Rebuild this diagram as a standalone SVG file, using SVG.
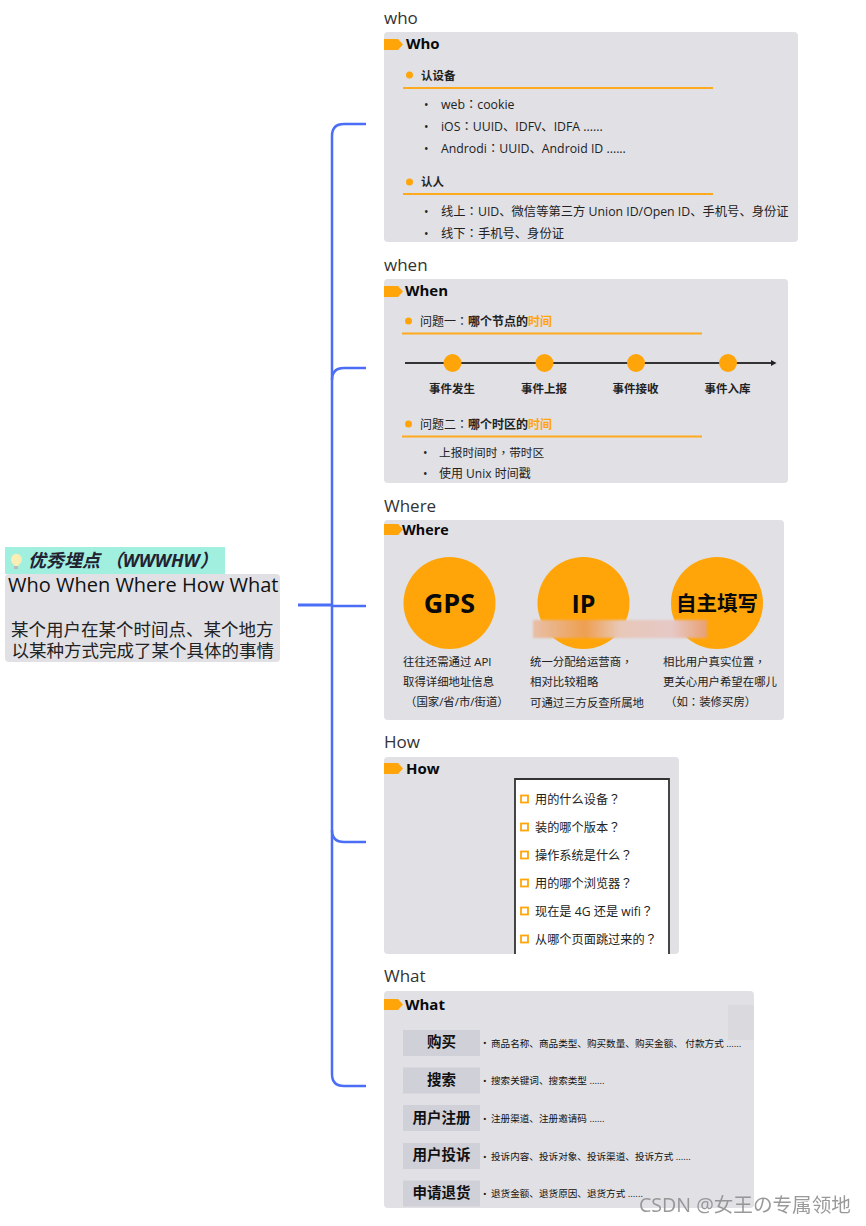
<svg xmlns="http://www.w3.org/2000/svg" width="866" height="1226" viewBox="0 0 866 1226">
<style>
text{font-family:"Open Sans","Noto Sans CJK SC",sans-serif;fill:#1a1a1a}
.p{font-family:"Noto Sans CJK TC",sans-serif}
.t{font-size:17px;fill:#333}
.card{fill:#e0e0e5}
.h{font-size:15px;font-weight:700;fill:#0a0a0a}
.b{font-size:12px;fill:#222}
.bw{font-size:12.300px;fill:#222}
.bh{font-size:12.200px;fill:#222}
.bp{font-size:11.400px;fill:#222}
.s{font-size:11.500px;font-weight:700;fill:#222}
.o{fill:#ffa50a}
.l{stroke:#ffa91f;stroke-width:1.800;fill:none}
.c{fill:none;stroke:#4a6ef5;stroke-width:2.500}
.bl{font-size:14.500px;font-weight:700;fill:#111;text-anchor:middle}
.w{font-size:9.600px;fill:#111}
.g{fill:#d0d0d8}
.o2{fill:#ffa50a;font-weight:700}
</style>
<defs>
<symbol id="tag" overflow="visible"><path class="o" d="M0 0H14L19 5.500L14 11H0Z"/></symbol>
<linearGradient id="blur"><stop offset="0" stop-color="#e8bfa8"/><stop offset=".3" stop-color="#ee9f50"/><stop offset=".5" stop-color="#e8c8b8"/><stop offset=".8" stop-color="#e6c8c6"/><stop offset="1" stop-color="#e8a070"/></linearGradient>
<filter id="soft"><feGaussianBlur stdDeviation="1.200"/></filter>
</defs>
<g id="connectors">
<path class="c" d="M366 124H344Q332 124 332 136V1074Q332 1086 344 1086H366"/>
<path class="c" d="M366 368H344Q332 368 332 380"/>
<path class="c" d="M332 830Q332 842 344 842H366"/>
<path class="c" d="M298 605H332" style="stroke-width:3"/>
<path class="c" d="M332 606H366"/>
</g>
<g id="root">
<rect x="5" y="547" width="220" height="27" fill="#a0efdf"/>
<path d="M11 560a5.500 5.500 0 1 1 10 2.500l-3 3.500h-3l-3-3z" fill="#fbeeb5"/>
<rect x="14" y="566" width="4" height="3" fill="#bbb"/>
<text x="28" y="567" font-size="18" font-weight="700" font-style="italic" style="fill:#223">优秀埋点 （WWWHW）</text>
<rect x="5" y="574" width="275" height="88" rx="4" class="card"/>
<text x="8" y="592" font-size="20" style="fill:#111">Who When Where How What</text>
<text x="11" y="636" font-size="17.500" style="fill:#222">某个用户在某个时间点、某个地方</text>
<text x="11.500" y="657" font-size="17.500" style="fill:#222">以某种方式完成了某个具体的事情</text>
</g>
<g id="who">
<text class="t" x="384" y="24">who</text>
<rect x="384" y="32" width="414" height="210" rx="4" class="card"/>
<use href="#tag" x="384" y="39"/>
<text class="h" x="406" y="49">Who</text>
<circle class="o" cx="409.500" cy="75" r="3.500"/>
<text class="s" x="421" y="80">认设备</text>
<path class="l" d="M403 88H713"/>
<text class="b" x="424" y="108.500">•</text><text class="bw" x="441" y="108.500">web<tspan class="p">：</tspan>cookie</text>
<text class="b" x="424" y="130.500">•</text><text class="bw" x="441" y="130.500">iOS<tspan class="p">：</tspan>UUID、IDFV、IDFA ......</text>
<text class="b" x="424" y="152.500">•</text><text class="bw" x="441" y="152.500">Androdi<tspan class="p">：</tspan>UUID、Android ID ......</text>
<circle class="o" cx="409.500" cy="182" r="3.500"/>
<text class="s" x="421" y="186">认人</text>
<path class="l" d="M403 194H713"/>
<text class="b" x="424" y="215.500">•</text><text class="bw" x="441" y="215.500">线上<tspan class="p">：</tspan>UID、微信等第三方 Union ID/Open ID、手机号、身份证</text>
<text class="b" x="424" y="237.500">•</text><text class="bw" x="441" y="237.500">线下<tspan class="p">：</tspan>手机号、身份证</text>
</g>
<g id="when">
<text class="t" x="384" y="271">when</text>
<rect x="384" y="279" width="404" height="204" rx="4" class="card"/>
<use href="#tag" x="384" y="286"/>
<text class="h" x="405" y="296">When</text>
<circle class="o" cx="408.500" cy="321" r="3.500"/>
<text class="b" x="420" y="326">问题一<tspan class="p">：</tspan><tspan font-weight="700">哪个节点的</tspan><tspan class="o2">时间</tspan></text>
<path class="l" d="M402 333.500H702"/>
<path d="M405 363H772" stroke="#333" stroke-width="1.800"/>
<path d="M771 360L776.500 363L771 366Z" fill="#222"/>
<circle class="o" cx="452.500" cy="363" r="9"/><circle class="o" cx="544.500" cy="363" r="9"/><circle class="o" cx="636" cy="363" r="9"/><circle class="o" cx="728" cy="363" r="9"/>
<g text-anchor="middle">
<text class="s" x="452" y="393">事件发生</text><text class="s" x="544" y="393">事件上报</text><text class="s" x="635.500" y="393">事件接收</text><text class="s" x="727.500" y="393">事件入库</text>
</g>
<circle class="o" cx="408.500" cy="424" r="3.500"/>
<text class="b" x="420" y="429">问题二<tspan class="p">：</tspan><tspan font-weight="700">哪个时区的</tspan><tspan class="o2">时间</tspan></text>
<path class="l" d="M402 436.500H702"/>
<text class="b" x="423" y="457">•</text><text class="b" style="font-size:11.700px" x="439" y="457">上报时间时<tspan class="p">，</tspan>带时区</text>
<text class="b" x="423" y="478">•</text><text class="b" x="439" y="478">使用 Unix 时间戳</text>
</g>
<g id="where">
<text class="t" x="384" y="512">Where</text>
<rect x="384" y="520" width="400" height="200" rx="4" class="card"/>
<use href="#tag" x="384" y="524"/>
<text class="h" x="402" y="535" style="font-size:14.300px">Where</text>
<circle class="o" cx="449.500" cy="603" r="46"/><circle class="o" cx="583.500" cy="603" r="46"/><circle class="o" cx="717" cy="603" r="46"/>
<text x="449.500" y="612.500" font-size="27" font-weight="700" text-anchor="middle" style="fill:#0a0a0a">GPS</text>
<text x="583.500" y="612.500" font-size="25" font-weight="700" text-anchor="middle" style="fill:#0a0a0a">IP</text>
<text x="717" y="611" font-size="20.500" font-weight="700" text-anchor="middle" style="fill:#0a0a0a">自主填写</text>
<rect x="533" y="620" width="174" height="18" fill="url(#blur)" filter="url(#soft)"/>
<text class="bp" x="403" y="666">往往还需通过 API</text>
<text class="bp" x="403" y="686">取得详细地址信息</text>
<text class="bp" x="405" y="706"><tspan class="p">（</tspan>国家/省/市/街道<tspan class="p">）</tspan></text>
<text class="bp" x="530" y="666">统一分配给运营商<tspan class="p">，</tspan></text>
<text class="bp" x="530" y="686">相对比较粗略</text>
<text class="bp" x="530" y="707">可通过三方反查所属地</text>
<text class="bp" x="663" y="666">相比用户真实位置<tspan class="p">，</tspan></text>
<text class="bp" x="663" y="686">更关心用户希望在哪儿</text>
<text class="bp" x="665" y="706"><tspan class="p">（</tspan>如<tspan class="p">：</tspan>装修买房<tspan class="p">）</tspan></text>
</g>
<g id="how">
<text class="t" x="384" y="748">How</text>
<rect x="384" y="757" width="295" height="197" rx="4" class="card"/>
<use href="#tag" x="384" y="763"/>
<text class="h" x="406" y="774">How</text>
<path d="M515 954V779H669V954Z" fill="#fff"/>
<path d="M515 954V779H669V954" fill="none" stroke="#333" stroke-width="1.800"/>
<g fill="none" stroke="#ffa50a" stroke-width="1.800">
<rect x="521" y="795.500" width="7" height="7"/><rect x="521" y="823.500" width="7" height="7"/><rect x="521" y="851.500" width="7" height="7"/><rect x="521" y="879.500" width="7" height="7"/><rect x="521" y="907.500" width="7" height="7"/><rect x="521" y="935.500" width="7" height="7"/>
</g>
<text class="bh" x="535" y="803.500">用的什么设备<tspan class="p">？</tspan></text>
<text class="bh" x="535" y="831.500">装的哪个版本<tspan class="p">？</tspan></text>
<text class="bh" x="535" y="859.500">操作系统是什么<tspan class="p">？</tspan></text>
<text class="bh" x="535" y="887.500">用的哪个浏览器<tspan class="p">？</tspan></text>
<text class="bh" x="535" y="915.500">现在是 4G 还是 wifi<tspan class="p">？</tspan></text>
<text class="bh" x="535" y="943.500">从哪个页面跳过来的<tspan class="p">？</tspan></text>
</g>
<g id="what">
<text class="t" x="384" y="982">What</text>
<rect x="384" y="991" width="370" height="217" rx="4" class="card"/>
<rect x="728" y="1005" width="26" height="35" fill="#d9d9de"/>
<use href="#tag" x="384" y="999"/>
<text class="h" x="405" y="1010">What</text>
<rect class="g" x="403" y="1030" width="77" height="26"/><rect class="g" x="403" y="1067.500" width="77" height="26"/><rect class="g" x="403" y="1105" width="77" height="26"/><rect class="g" x="403" y="1143" width="77" height="26"/><rect class="g" x="403" y="1180.500" width="77" height="26"/>
<text class="bl" x="441.500" y="1047">购买</text><text class="bl" x="441.500" y="1084.500">搜索</text><text class="bl" x="441.500" y="1122.500">用户注册</text><text class="bl" x="441.500" y="1160">用户投诉</text><text class="bl" x="441.500" y="1197.500">申请退货</text>
<text class="w" x="483" y="1046">•</text><text class="w" x="491" y="1046.500">商品名称、商品类型、购买数量、购买金额、 付款方式 ......</text>
<text class="w" x="483" y="1084">•</text><text class="w" x="491" y="1084">搜索关键词、搜索类型 ......</text>
<text class="w" x="483" y="1122">•</text><text class="w" x="491" y="1122">注册渠道、注册邀请码 ......</text>
<text class="w" x="483" y="1159.500">•</text><text class="w" x="491" y="1159.500">投诉内容、投诉对象、投诉渠道、投诉方式 ......</text>
<text class="w" x="483" y="1197">•</text><text class="w" x="491" y="1197">退货金额、退货原因、退货方式 ......</text>
</g>
<text x="639" y="1212" font-size="19.600" style="fill:#8f8f8f" opacity=".9">CSDN @女王の专属领地</text>
</svg>
